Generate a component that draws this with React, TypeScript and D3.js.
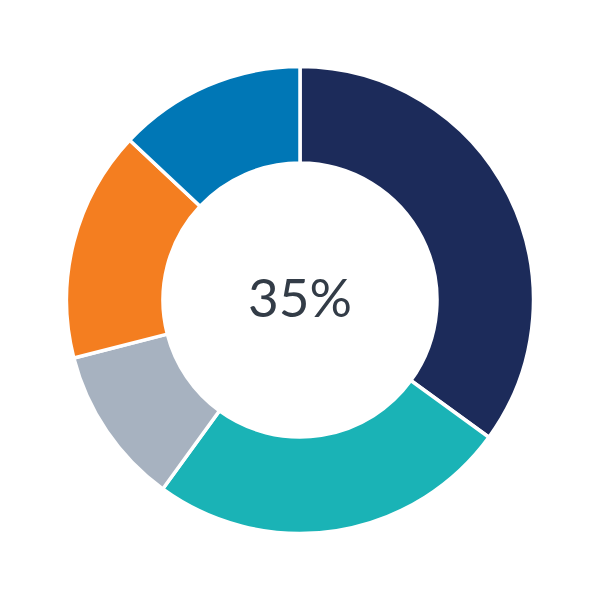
import React from "react";
import * as d3 from "d3";

const categories = ["A", "B", "C", "D", "E"];
const values = [35, 25, 11, 16, 13];
const colors = ["#1c2b5a", "#1ab3b6", "#a7b2c0", "#f47e20", "#0077b6"];
const centerLabel = "35%";

export default function App() {
  const width = 600, height = 600;
  const cx = 300, cy = 300;
  const pie = d3.pie<number>().sort(null).value((d) => d);
  const arcs = pie(values);
  const arc = d3.arc<d3.PieArcDatum<number>>().innerRadius(137).outerRadius(233.5);
  return (
    <svg width={width} height={height} style={{ position: "absolute", left: 0, top: 0 }}>
      <rect width={width} height={height} fill="#fff" />
      <g transform={`translate(${cx},${cy})`}>
        {arcs.map((a, i) => (
          <path key={categories[i]} d={arc(a) || ""} fill={colors[i]} stroke="#fff" strokeWidth={3.5} />
        ))}
        <text x={0} y={17} textAnchor="middle" fontFamily="Lato" fontWeight={400} fontSize={53} fill="#333c47">
          {centerLabel}
        </text>
      </g>
    </svg>
  );
}
